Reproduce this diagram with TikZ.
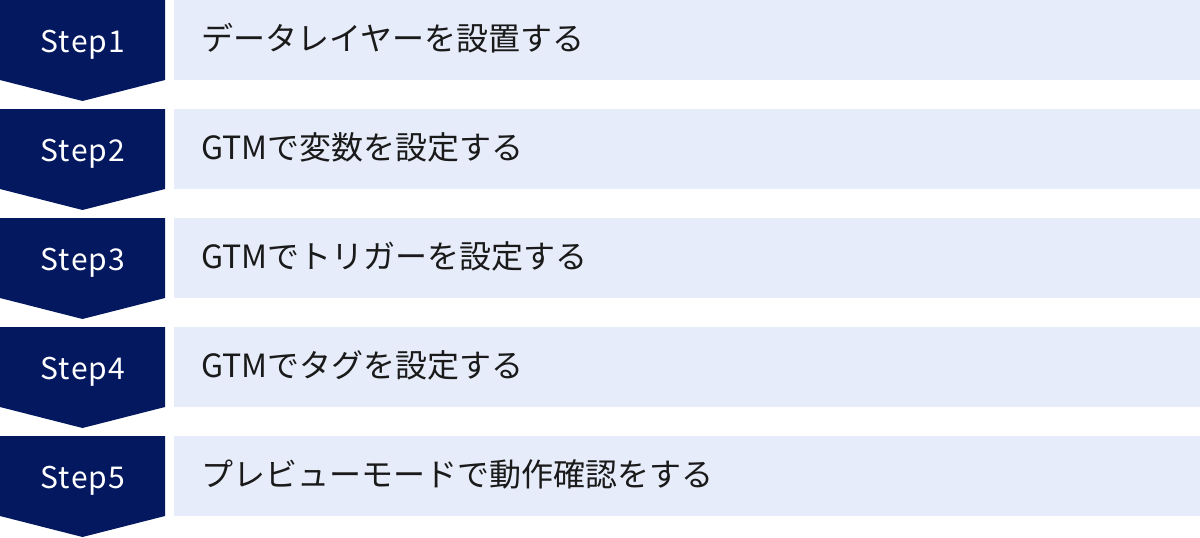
\documentclass[tikz,border=0pt]{standalone}
\usepackage{fontspec}
\setmainfont{Noto Sans CJK JP}
\newfontfamily\stepfont[LetterSpace=4]{Noto Sans CJK JP}
\usetikzlibrary{positioning}
\definecolor{stepnavy}{RGB}{4,24,96}
\definecolor{steplight}{RGB}{230,236,249}
\definecolor{steptxt}{RGB}{26,26,26}

\tikzset{
    stepmark/.style={fill=stepnavy},
    stepband/.style={fill=steplight},
    steplabel/.style={anchor=base, inner sep=0pt, text=white, font=\stepfont\fontsize{30}{36}\selectfont},
    steptask/.style={anchor=base west, inner sep=0pt, text=steptxt, font=\fontsize{32}{38}\selectfont}
}

\begin{document}
\begin{tikzpicture}[x=1pt,y=1pt]
    \useasboundingbox (0,0) rectangle (1200,-538);
    \foreach \n/\txt in {1/データレイヤーを設置する,
                         2/GTMで変数を設定する,
                         3/GTMでトリガーを設定する,
                         4/GTMでタグを設定する,
                         5/プレビューモードで動作確認をする} {
        \pgfmathsetmacro{\t}{-109*(\n-1)}
        % chevron and band
        \fill[stepmark] (0,\t) -- (165,\t) -- (165,\t-80) -- (82.5,\t-101) -- (0,\t-80) -- cycle;
        \fill[stepband] (174,\t) rectangle (1200,\t-80);
        % labels
        \node[steplabel] (step\n) at (83,\t-52) {Step\n};
        \node[steptask] (task\n) at (201,\t-50) {\txt};
    }
\end{tikzpicture}
\end{document}
